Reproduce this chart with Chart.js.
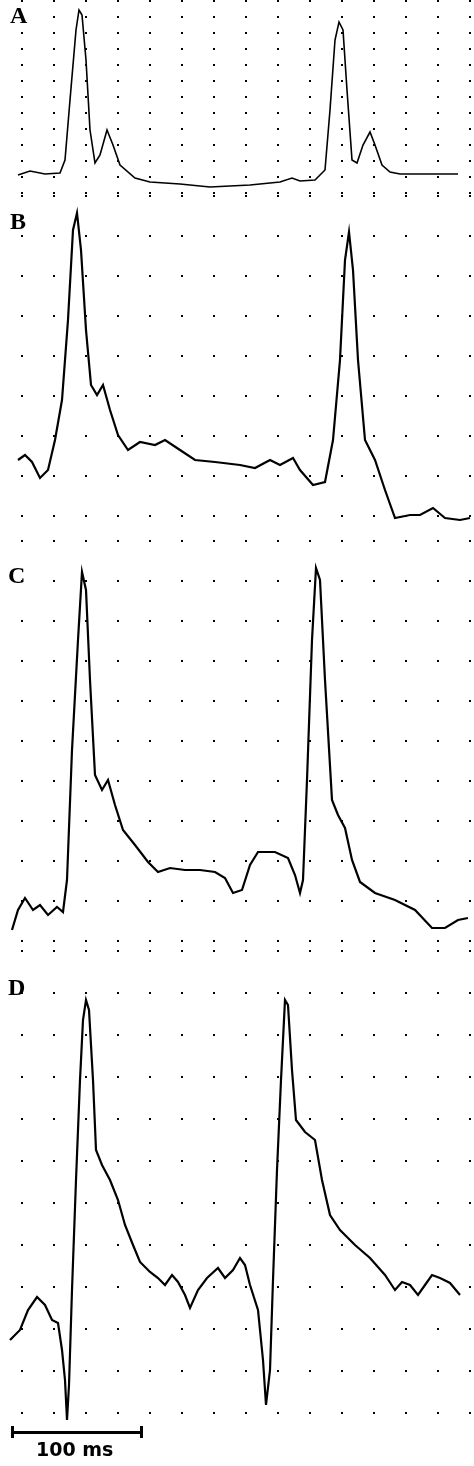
<!DOCTYPE html>
<html><head><meta charset="utf-8">
<script src="https://cdn.jsdelivr.net/npm/chart.js@4"></script>
<style>
body{margin:0;background:#fff;width:474px;height:1466px;position:relative;overflow:hidden}
.p{position:absolute;left:0;width:474px}
.lab{position:absolute;font:bold 24px "Liberation Serif",serif;color:#000}
#bar{position:absolute;left:12px;top:1431px;width:130px;height:3px;background:#000}
.tk{position:absolute;top:1426px;width:3px;height:12px;background:#000}
#ms{position:absolute;left:36px;top:1438px;font:bold 19px "DejaVu Sans",sans-serif}
</style></head><body>
<div class="p" style="top:0;height:195px"><canvas id="cA"></canvas></div>
<div class="p" style="top:195px;height:345px"><canvas id="cB"></canvas></div>
<div class="p" style="top:540px;height:410px"><canvas id="cC"></canvas></div>
<div class="p" style="top:950px;height:490px"><canvas id="cD"></canvas></div>
<div class="lab" style="left:10px;top:2px">A</div>
<div class="lab" style="left:10px;top:208px">B</div>
<div class="lab" style="left:8px;top:562px">C</div>
<div class="lab" style="left:8px;top:974px">D</div>
<div id="bar"></div><div class="tk" style="left:11px"></div><div class="tk" style="left:140px"></div>
<div id="ms">100 ms</div>
<script>
const timeA=[18,30,45,60,65,70,76,79,82,86,90,95,100,107,113,120,135,150,180,210,250,280,292,300,315,325,330,335,339,343,347,352,357,363,370,375,382,390,400,430,458];
const traceA=[175,171,174,173,160,100,30,10,15,60,130,163,155,130,145,165,178,182,184,187,185,182,178,181,180,170,110,40,22,30,90,160,163,145,132,145,165,172,174,174,174];
const timeB=[18,25,32,40,48,55,62,68,73,77,81,86,91,97,103,110,118,128,140,155,165,180,195,215,240,255,270,280,293,300,313,325,333,340,345,349,353,358,365,375,385,395,410,420,433,445,460,470];
const traceB=[460,455,462,478,470,440,400,320,230,213,250,330,385,395,385,410,435,450,442,445,440,450,460,462,465,468,460,465,458,470,485,482,440,360,260,232,270,360,440,460,490,518,515,515,508,518,520,518];
const timeC=[12,18,25,33,40,48,57,63,67,72,78,82,86,90,95,102,108,115,123,135,148,158,170,185,200,215,225,233,242,250,258,275,288,295,300,303,307,312,316,320,325,332,338,345,352,360,375,395,415,432,445,458,468];
const traceC=[930,910,898,910,905,915,907,912,880,750,640,572,590,680,775,790,780,805,830,845,862,872,868,870,870,872,878,893,890,865,852,852,858,875,893,880,780,640,568,580,680,800,815,828,860,882,893,900,910,928,928,920,918];
const timeD=[10,20,28,37,45,52,58,62,65,67,69,72,76,80,83,86,89,93,96,102,110,118,125,133,140,150,158,165,172,178,185,190,198,207,218,225,233,240,245,250,258,263,266,270,273,277,281,285,288,292,296,305,315,322,330,340,355,370,385,395,402,410,418,425,432,440,450,460];
const traceD=[1340,1330,1310,1297,1305,1320,1323,1350,1380,1420,1385,1290,1180,1080,1020,1000,1010,1080,1150,1165,1180,1200,1225,1245,1262,1272,1278,1285,1275,1282,1295,1308,1290,1278,1268,1278,1270,1258,1265,1285,1310,1360,1405,1370,1280,1170,1080,1000,1005,1070,1120,1132,1140,1180,1215,1230,1245,1258,1275,1290,1282,1285,1295,1285,1275,1278,1283,1295];
const gridCols=[22,54,86,118,150,182,214,246,278,310,342,374,406,438,470];

function make(id,xs,ys,top,bottom,lw,dash){
  new Chart(document.getElementById(id),{
    type:'line',
    data:{datasets:[{data:xs.map((x,i)=>({x:x,y:ys[i]})),borderColor:'#000',borderWidth:lw,pointRadius:0,tension:0,fill:false}]},
    options:{responsive:true,maintainAspectRatio:false,animation:false,
      layout:{padding:0},
      plugins:{legend:{display:false},tooltip:{enabled:false}},
      scales:{
        x:{type:'linear',min:0,max:474,border:{display:false,dash:[2,dash]},
          afterBuildTicks:a=>{a.ticks=gridCols.map(v=>({value:v}));},
          ticks:{display:false},
          grid:{color:'#000',lineWidth:2,drawTicks:false}},
        y:{type:'linear',reverse:true,min:top,max:bottom,display:false}
      }}
  });
}
make('cA',timeA,traceA,0,195,1.6,14);
make('cB',timeB,traceB,195,540,2.2,38);
make('cC',timeC,traceC,540,950,2.2,38);
make('cD',timeD,traceD,950,1440,2.2,40);
</script></body></html>
